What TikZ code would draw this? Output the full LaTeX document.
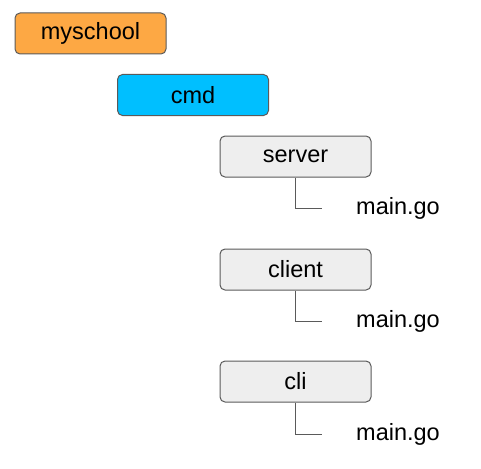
\documentclass[tikz,border=0pt]{standalone}
\usepackage{fontspec}
\setmainfont{Liberation Sans}
\definecolor{orangefill}{HTML}{FDA844}
\definecolor{cyanfill}{HTML}{00BFFF}
\definecolor{grayfill}{HTML}{EEEEEE}
\definecolor{edgegray}{HTML}{5A5A5A}
\begin{document}
\begin{tikzpicture}[x=1pt,y=-1pt,
  dirbox/.style={draw=edgegray, line width=1pt, rounded corners=5pt, minimum width=151pt, minimum height=41pt, inner sep=0pt, font=\fontsize{23.5pt}{28pt}\selectfont},
  filetext/.style={anchor=west, inner sep=0pt, font=\fontsize{23.5pt}{28pt}\selectfont},
  conn/.style={draw=edgegray, line width=1pt}]
\useasboundingbox (0,0) rectangle (481,468);
\node[dirbox, fill=orangefill] (myschool) at (90.5,33.5) {myschool};
\node[dirbox, fill=cyanfill] (cmd) at (193,95) {cmd};
\node[dirbox, fill=grayfill] (server) at (295.5,156.5) {server};
\node[dirbox, fill=grayfill] (client) at (295.5,269.5) {client};
\node[dirbox, fill=grayfill] (cli) at (295.5,381.5) {cli};
\node[filetext] (f1) at (356,208) {main.go};
\node[filetext] (f2) at (356,321) {main.go};
\node[filetext] (f3) at (356,434) {main.go};
\coordinate (e1) at (322,208);
\coordinate (e2) at (322,321);
\coordinate (e3) at (322,434);
\draw[conn] (server.south) |- (e1);
\draw[conn] (client.south) |- (e2);
\draw[conn] (cli.south) |- (e3);
\end{tikzpicture}
\end{document}
